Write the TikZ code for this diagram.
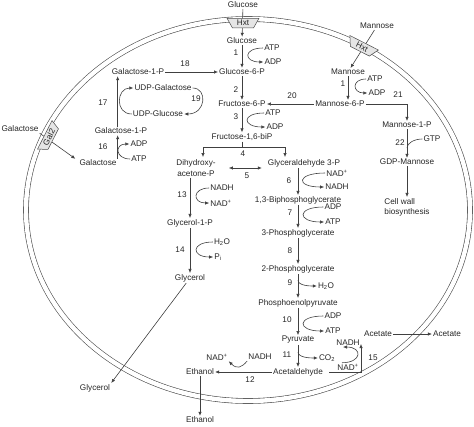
\documentclass[tikz,border=0pt]{standalone}
\usepackage{fontspec}
\setmainfont{Liberation Sans}
\usetikzlibrary{arrows.meta,shapes.geometric}

\begin{document}
\begin{tikzpicture}[x=1pt,y=-1pt,
      every node/.style={font=\fontsize{8.2}{9.6}\selectfont, text=black!85, inner sep=1pt},
      rxn/.style={-{Latex[length=4pt,width=3.4pt]}, black!75, line width=0.6pt},
      both/.style={{Latex[length=4pt,width=3.4pt]}-{Latex[length=4pt,width=3.4pt]}, black!75, line width=0.6pt},
      hook/.style={black!75, line width=0.6pt},
      membrane/.style={double=white, double distance=4.4pt, line width=0.6pt, black!70},
      porter/.style={trapezium, shape border rotate=180, trapezium left angle=65,
            trapezium right angle=65, trapezium stretches=true, minimum width=32pt,
            minimum height=9.5pt, draw=black!70, fill=gray!20, line width=0.5pt}]
      \useasboundingbox (0,0) rectangle (474,426);
      % cell
      \draw[membrane] (248,210) ellipse [x radius=222pt, y radius=191pt];

      % outside
      \node (glcout) at (243,5) {Glucose};
      \node (manout) at (377,26) {Mannose};
      \node (galout) at (20,129) {Galactose};
      \node (glyout) at (95,388) {Glycerol};
      \node (etohout) at (200,420) {Ethanol};
      \node (acout) at (447,334) {Acetate};

      % glycolysis
      \node (glc) at (242,41) {Glucose};
      \node (g6p) at (242,72) {Glucose-6-P};
      \node (f6p) at (242,104) {Fructose-6-P};
      \node (f16bp) at (242,137) {Fructose-1,6-biP};
      \node[align=center, font=\fontsize{8.2}{11}\selectfont] (dhap) at (196,168) {Dihydroxy-\\acetone-P};
      \node (gap) at (304,163) {Glyceraldehyde 3-P};
      \node (bpg) at (298,200) {1,3-Biphosphoglycerate};
      \node (pg3) at (298,233) {3-Phosphoglycerate};
      \node (pg2) at (298,269) {2-Phosphoglycerate};
      \node (pep) at (298,303) {Phosphoenolpyruvate};
      \node (pyr) at (298,340) {Pyruvate};
      \node (acald) at (298,372) {Acetaldehyde};
      \node (etoh) at (200,372) {Ethanol};
      \node (acin) at (378,334) {Acetate};

      \draw[rxn] (glcout) -- (glc);
      \node[porter] (hxt1) at (243,23) {Hxt};
      \draw[rxn] (glc) -- (g6p);
      \draw[rxn] (g6p) -- (f6p);
      \draw[rxn] (f6p) -- (f16bp);
      \coordinate (br4) at (242,147);
      \coordinate (to-dhap) at (203,157);
      \coordinate (to-gap) at (285,157);
      \draw[hook] (f16bp) -- (br4);
      \draw[rxn] (br4) -| (to-dhap);
      \draw[rxn] (br4) -| (to-gap);
      \draw[both] ([xshift=12pt]dhap.east) -- ([xshift=-5pt]gap.west |- dhap.east);
      \draw[rxn] (gap.south -| bpg) -- (bpg);
      \draw[rxn] (bpg) -- (pg3);
      \draw[rxn] (pg3) -- (pg2);
      \draw[rxn] (pg2) -- (pep);
      \draw[rxn] (pep) -- (pyr);
      \draw[rxn] (pyr) -- (acald);
      \draw[rxn] (acald) -- (etoh);
      \draw[rxn] (etoh) -- (etohout);
      \draw[rxn] (acin) -- (acout);
      \coordinate (k15) at (361,344);
      \draw[rxn] ([xshift=5pt]acald.east) -| (k15);

      \node (n1) at (236,53) {1};
      \node (n2) at (236,90) {2};
      \node (n3) at (236,117) {3};
      \node (n4) at (243,154) {4};
      \node (n5) at (247,176) {5};
      \node (n6) at (289,181) {6};
      \node (n7) at (290,213) {7};
      \node (n8) at (290,251) {8};
      \node (n9) at (290,283) {9};
      \node (n10) at (287,320) {10};
      \node (n11) at (287,355) {11};
      \node (n12) at (250,380) {12};
      \node (n15) at (373,358) {15};

      \node (atp1) at (272,48) {ATP};
      \node (adp1) at (273,62) {ADP};
      \draw[rxn] (atp1.west) .. controls +(-20,0) and +(-20,0) .. (adp1.west);
      \node (atp3) at (273,113) {ATP};
      \node (adp3) at (275,127) {ADP};
      \draw[rxn] (atp3.west) .. controls +(-23,0) and +(-23,0) .. (adp3.west);
      \node (nad6) at (337,173) {NAD\textsuperscript{+}};
      \node (nadh6) at (337,187) {NADH};
      \draw[rxn] (nad6.west) .. controls +(-29,0) and +(-29,0) .. (nadh6.west);
      \node (adp7) at (333,207) {ADP};
      \node (atp7) at (333,222) {ATP};
      \draw[rxn] (adp7.west) .. controls +(-27,0) and +(-27,0) .. (atp7.west);
      \node (h2o9) at (326,286) {H\textsubscript{2}O};
      \coordinate (k9) at (298,280);
      \draw[rxn] (k9) .. controls +(0,6) and +(-6,0) .. (h2o9.west);
      \node (adp10) at (333,316) {ADP};
      \node (atp10) at (333,331) {ATP};
      \draw[rxn] (adp10.west) .. controls +(-27,0) and +(-27,0) .. (atp10.west);
      \node (co2) at (327,358) {CO\textsubscript{2}};
      \coordinate (k11) at (298,352);
      \draw[rxn] (k11) .. controls +(0,6) and +(-6,0) .. (co2.west);
      \node (nad12) at (217,357) {NAD\textsuperscript{+}};
      \node (nadh12) at (260,357) {NADH};
      \draw[rxn] (nadh12.south west) .. controls +(-6,7) and +(8,8) .. (nad12.south east);
      \node (nad15) at (348,367) {NAD\textsuperscript{+}};
      \node (nadh15) at (348,343) {NADH};
      \draw[rxn] ([xshift=-6pt]nad15.north) .. controls +(20,0) and +(20,0) .. ([xshift=-5pt]nadh15.south);

      % glycerol
      \node (g1p) at (190,223) {Glycerol-1-P};
      \node (glyin) at (190,278) {Glycerol};
      \draw[rxn] (dhap.south -| g1p) -- (g1p);
      \draw[rxn] (g1p) -- (glyin);
      \draw[rxn] (glyin) -- (glyout.north east);
      \node (n13) at (182,195) {13};
      \node (n14) at (180,250) {14};
      \node (nadh13) at (222,188) {NADH};
      \node (nad13) at (221,203) {NAD\textsuperscript{+}};
      \draw[rxn] (nadh13.west) .. controls +(-17,0) and +(-17,0) .. (nad13.west);
      \node (h2o14) at (222,242) {H\textsubscript{2}O};
      \node (pi14) at (218,257) {P\textsubscript{i}};
      \draw[rxn] (h2o14.west) .. controls +(-22,0) and +(-22,0) .. (pi14.west);

      % galactose
      \node (gal) at (98,163) {Galactose};
      \node (gal1p) at (121,131) {Galactose-1-P};
      \node (gal1pt) at (138,72) {Galactose-1-P};
      \node (udpgal) at (163,88) {UDP-Galactose};
      \node (udpglc) at (158,114) {UDP-Glucose};
      \draw[rxn] (gal.north east) -- (gal.north east |- gal1p.south);
      \draw[rxn] (gal.north east |- gal1p.north) -- (gal.north east |- gal1pt.south);
      \draw[rxn] (gal1pt) -- (g6p);
      \draw[rxn] (galout.south east) -- ([xshift=-3pt]gal.north west);
      \node[porter, rotate=63] (gal2) at (49,137) {Gal2};
      \node (n16) at (103,147) {16};
      \node (n17) at (103,103) {17};
      \node (n18) at (185,64) {18};
      \node (n19) at (196,99) {19};
      \node (adp16) at (139,144) {ADP};
      \node (atp16) at (139,159) {ATP};
      \draw[rxn] (atp16.west) .. controls +(-15,0) and +(-15,0) .. (adp16.west);
      \draw[rxn] (udpglc.west) .. controls +(-17,0) and +(-17,0) .. (udpgal.west);
      \draw[rxn] (udpgal.east) .. controls +(15,0) and +(22,0) .. (udpglc.east);

      % mannose
      \node (man) at (348,72) {Mannose};
      \node (man6p) at (340,104) {Mannose-6-P};
      \node (man1p) at (407,125) {Mannose-1-P};
      \node (gdpman) at (407,162) {GDP-Mannose};
      \node[align=left, font=\fontsize{8.2}{10}\selectfont] (cwall) at (407,207) {Cell wall\\biosynthesis};
      \draw[rxn] (manout) -- (man);
      \node[porter, rotate=-27] (hxt2) at (362,47) {Hxt};
      \draw[rxn] (man) -- (man |- man6p.north);
      \draw[rxn] (man6p) -- (f6p);
      \draw[rxn] (man6p.east) -| (man1p);
      \draw[rxn] (man1p) -- (gdpman);
      \draw[rxn] (gdpman) -- (cwall);
      \node (nm1) at (343,84) {1};
      \node (n20) at (292,96) {20};
      \node (n21) at (398,95) {21};
      \node (n22) at (400,143) {22};
      \node (atpm) at (375,79) {ATP};
      \node (adpm) at (377,93) {ADP};
      \draw[rxn] (atpm.west) .. controls +(-15,0) and +(-15,0) .. (adpm.west);
      \node (gtp) at (432,139) {GTP};
      \coordinate (k22) at (407,148);
      \draw[hook] (gtp.west) .. controls +(-8,0) and +(0,-5) .. (k22);
\end{tikzpicture}
\end{document}
